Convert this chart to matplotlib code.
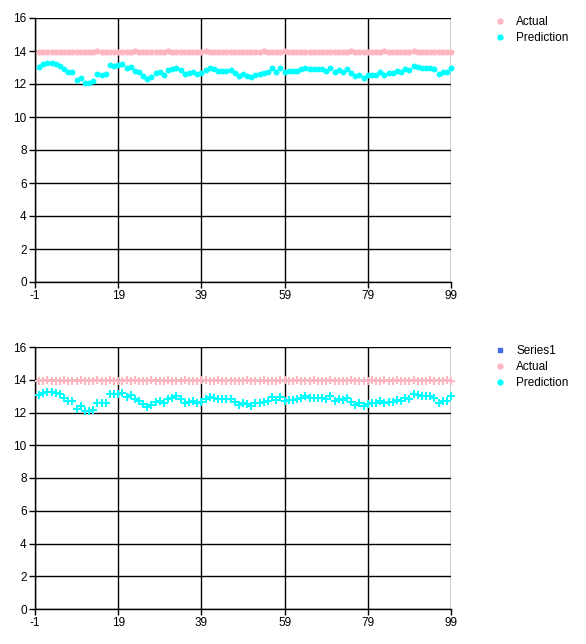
import numpy as np
import matplotlib.pyplot as plt
from matplotlib.lines import Line2D

# Data (index 0..99)
x_vals = list(range(100))

actual = [
    13.95, 13.93, 13.96, 13.94, 13.95, 13.92, 13.96, 13.94, 13.93, 13.95,
    13.96, 13.94, 13.92, 13.95, 13.97, 13.93, 13.94, 13.96, 13.95, 13.93,
    13.94, 13.96, 13.95, 13.99, 13.94, 13.93, 13.95, 13.96, 13.92, 13.94,
    13.95, 13.97, 13.94, 13.93, 13.95, 13.96, 13.94, 13.95, 13.93, 13.96,
    13.98, 13.95, 13.94, 13.96, 13.93, 13.95, 13.94, 13.92, 13.94, 13.95,
    13.96, 13.94, 13.93, 13.95, 13.97, 13.94, 13.95, 13.93, 13.96, 13.98,
    13.95, 13.94, 13.96, 13.93, 13.95, 13.94, 13.96, 13.95, 13.93, 13.94,
    13.96, 13.95, 13.92, 13.94, 13.95, 13.97, 13.94, 13.93, 13.95, 13.94,
    13.96, 13.95, 13.93, 13.98, 13.94, 13.95, 13.96, 13.93, 13.94, 13.95,
    13.97, 13.94, 13.93, 13.95, 13.96, 13.94, 13.93, 13.95, 13.96, 13.94,
]

prediction = [
    13.05, 13.19, 13.25, 13.25, 13.19, 13.10, 12.90, 12.70, 12.70, 12.24,
    12.38, 12.08, 12.08, 12.17, 12.59, 12.55, 12.59, 13.15, 13.10, 13.15,
    13.19, 12.95, 13.05, 12.80, 12.70, 12.50, 12.32, 12.45, 12.64, 12.70,
    12.57, 12.85, 12.89, 13.00, 12.85, 12.59, 12.64, 12.70, 12.59, 12.64,
    12.85, 12.95, 12.89, 12.80, 12.80, 12.80, 12.85, 12.67, 12.46, 12.59,
    12.50, 12.42, 12.55, 12.60, 12.64, 12.70, 12.95, 12.75, 12.95, 12.70,
    12.78, 12.78, 12.80, 12.88, 13.00, 12.88, 12.88, 12.90, 12.88, 12.80,
    13.00, 12.70, 12.85, 12.75, 12.88, 12.64, 12.48, 12.56, 12.38, 12.53,
    12.57, 12.57, 12.73, 12.57, 12.64, 12.64, 12.77, 12.73, 12.88, 12.85,
    13.10, 13.05, 13.00, 13.00, 12.98, 12.90, 12.60, 12.70, 12.70, 12.98,
]

series1 = []  # empty series shown only in the legend

x_ticks = [-1, 19, 39, 59, 79, 99]
y_ticks = list(range(0, 17, 2))

pink = '#FFB6C1'
cyan = '#00FFFF'
blue = '#4169E1'

plt.rcParams['font.family'] = ['Liberation Sans', 'DejaVu Sans']
plt.rcParams['axes.unicode_minus'] = False

fig = plt.figure(figsize = (5.86, 6.44), dpi = 100)
ax_top = fig.add_axes([35 / 586, 1 - 282 / 644, 416 / 586, 264 / 644])
ax_bot = fig.add_axes([35 / 586, 1 - 609 / 644, 416 / 586, 262 / 644])


def style_axis(ax):
    ax.set_xlim(-1, 99)
    ax.set_ylim(0, 16)
    ax.set_xticks(x_ticks)
    ax.set_yticks(y_ticks)
    ax.grid(True, color = 'black', linewidth = 1)
    ax.set_axisbelow(True)
    ax.tick_params(direction = 'out', length = 4, width = 1, colors = 'black', labelsize = 8.5, pad = 2)
    for s in ax.spines.values():
        s.set_color('black')
        s.set_linewidth(1)
    ax.spines['top'].set_visible(False)
    ax.spines['right'].set_visible(False)


# Top chart
style_axis(ax_top)
ax_top.scatter(x_vals, actual, s = 20, color = pink, marker = 'o', linewidths = 0, zorder = 3, clip_on = False)
ax_top.scatter(x_vals, prediction, s = 18, color = cyan, marker = 'o', linewidths = 0, zorder = 3, clip_on = False)

handles_top = [
    Line2D([], [], marker = 'o', linestyle = '', color = pink, markersize = 3.5, label = 'Actual'),
    Line2D([], [], marker = 'o', linestyle = '', color = cyan, markersize = 3.5, label = 'Prediction'),
]
ax_top.legend(handles = handles_top, loc = 'upper left', bbox_to_anchor = (488 / 586, 1 - 10 / 644),
              bbox_transform = fig.transFigure, frameon = False, fontsize = 8.5,
              handlelength = 1.0, handletextpad = 0.9, labelspacing = 0.35, borderpad = 0)

# Bottom chart
style_axis(ax_bot)
ax_bot.scatter(series1, series1, s = 14, color = blue, marker = 's', label = 'Series1')
ax_bot.scatter(x_vals, actual, s = 34, color = pink, marker = 'P', linewidths = 0, zorder = 3, clip_on = False)
ax_bot.scatter(x_vals, prediction, s = 34, color = cyan, marker = 'P', linewidths = 0, zorder = 3, clip_on = False)

handles_bot = [
    Line2D([], [], marker = 's', linestyle = '', color = blue, markersize = 3, label = 'Series1'),
    Line2D([], [], marker = 'o', linestyle = '', color = pink, markersize = 3.5, label = 'Actual'),
    Line2D([], [], marker = 'o', linestyle = '', color = cyan, markersize = 3.5, label = 'Prediction'),
]
ax_bot.legend(handles = handles_bot, loc = 'upper left', bbox_to_anchor = (488 / 586, 1 - 339 / 644),
              bbox_transform = fig.transFigure, frameon = False, fontsize = 8.5,
              handlelength = 1.0, handletextpad = 0.9, labelspacing = 0.35, borderpad = 0)

fig.savefig('out.png', dpi = 100, facecolor = 'white')
